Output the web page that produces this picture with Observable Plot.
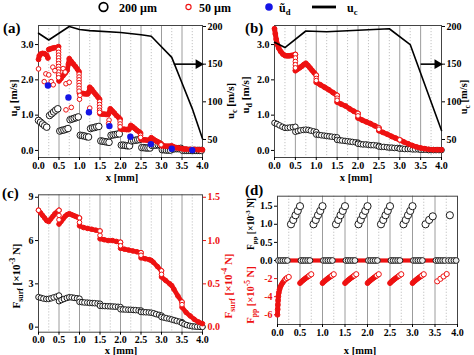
<!DOCTYPE html>
<html><head><meta charset="utf-8">
<script src="https://cdn.jsdelivr.net/npm/d3@7"></script>
<script src="https://cdn.jsdelivr.net/npm/@observablehq/plot@0.6"></script>
<style>
html,body{margin:0;padding:0;background:#fff}
#wrap{position:relative;width:474px;height:355px;overflow:hidden;background:#fff}
#wrap svg{position:absolute}
</style></head>
<body><div id="wrap"></div>
<script>
// ---------- shared categories ----------
const xTicks = [0,0.5,1,1.5,2,2.5,3,3.5,4];
const gridMajor = [0.5,1,1.5,2,2.5,3,3.5];
const gridMinor = [0.25,0.75,1.25,1.75,2.25,2.75,3.25,3.75];
const udTicks = [0,1,2,3];
const ucTicks = [50,100,150,200];
const segStarts = [0,0.5,1,1.5,2,2.5,3,3.5];
const segOffsets = [0,0.06,0.12,0.19,0.25,0.31,0.37,0.44,0.5];

// ---------- (a) ----------
const aBig = [
 [0.0,0.85],[0.05,0.8],[0.1,0.75],[0.15,0.7],[0.2,0.66],
 [0.27,0.99],[0.32,1.04],[0.37,1.09],[0.42,1.14],[0.47,1.18],
 [0.52,0.55],[0.57,0.57],[0.62,0.58],[0.67,0.6],[0.72,0.62],
 [0.77,0.87],[0.82,0.89],[0.87,0.91],[0.92,0.93],[0.97,0.95],
 [1.02,0.43],[1.07,0.42],[1.12,0.41],[1.17,0.39],[1.22,0.38],
 [1.27,0.62],[1.32,0.64],[1.37,0.65],[1.42,0.67],[1.47,0.68],
 [1.52,0.27],[1.57,0.26],[1.62,0.25],[1.67,0.24],[1.72,0.23],
 [1.77,0.43],[1.82,0.44],[1.87,0.45],[1.92,0.46],[1.97,0.47],
 [2.02,0.15],[2.07,0.15],[2.12,0.14],[2.17,0.13],[2.22,0.13],
 [2.27,0.27],[2.32,0.28],[2.37,0.29],[2.42,0.3],[2.47,0.31],
 [2.52,0.08],[2.57,0.08],[2.62,0.07],[2.67,0.07],[2.72,0.07],
 [2.77,0.14],[2.82,0.15],[2.87,0.15],[2.92,0.16],[2.97,0.16],
 [3.02,0.02],[3.07,0.02],[3.12,0.01],[3.17,0.01],[3.22,0.01],
 [3.27,0.04],[3.32,0.05],[3.37,0.05],[3.42,0.05],[3.47,0.06],
 [3.52,0],[3.57,0],[3.62,0],[3.67,0],[3.72,0],
 [3.77,0],[3.82,0],[3.87,0],[3.92,0],[3.97,0]
];
const aRedBands = [
 [[0.0,2.58],[0.02,2.68],[0.05,2.73],[0.1,2.75],[0.15,2.74],[0.2,2.7],[0.23,2.62]],
 [[0.25,2.86],[0.3,2.88],[0.35,2.9],[0.4,2.91],[0.45,2.92],[0.49,2.94]],
 [[0.5,1.97],[0.55,2.04],[0.6,2.12],[0.65,2.19],[0.7,2.27],[0.73,2.45],[0.75,2.6],[0.8,2.52],[0.85,2.45],[0.9,2.38],[0.95,2.3],[0.99,2.23]],
 [[1.0,1.62],[1.05,1.62],[1.1,1.61],[1.15,1.6],[1.2,1.6],[1.23,1.66],[1.25,1.79],[1.3,1.73],[1.35,1.65],[1.4,1.58],[1.45,1.51],[1.49,1.45]],
 [[1.5,1.04],[1.55,1.03],[1.6,1.03],[1.65,1.02],[1.7,1.02],[1.73,1.08],[1.75,1.18],[1.8,1.12],[1.85,1.06],[1.9,0.99],[1.95,0.94],[1.99,0.89]],
 [[2.0,0.61],[2.05,0.6],[2.1,0.6],[2.15,0.59],[2.2,0.59],[2.23,0.64],[2.25,0.71],[2.3,0.67],[2.35,0.62],[2.4,0.57],[2.45,0.53],[2.49,0.49]],
 [[2.5,0.31],[2.55,0.3],[2.6,0.3],[2.65,0.29],[2.7,0.29],[2.73,0.32],[2.75,0.36],[2.8,0.32],[2.85,0.28],[2.9,0.25],[2.95,0.22],[2.99,0.19]],
 [[3.0,0.13],[3.05,0.13],[3.1,0.12],[3.15,0.12],[3.2,0.12],[3.25,0.13],[3.3,0.1],[3.35,0.08],[3.4,0.07],[3.45,0.06],[3.5,0.05],[3.55,0.04],[3.6,0.04],[3.7,0.03],[3.8,0.03],[3.9,0.02],[4.0,0.02]]
];
const aRedCols = [
 [0.49,2.86],[0.49,2.78],[0.49,2.7],[0.49,2.62],[0.49,2.54],[0.49,2.46],[0.49,2.38],[0.49,2.3],[0.49,2.22],[0.49,2.14],[0.49,2.06],
 [0.99,2.16],[0.99,2.08],[0.99,2.0],[0.99,1.92],[0.99,1.84],[0.99,1.76],[0.99,1.68],
 [1.49,1.38],[1.49,1.3],[1.49,1.22],[1.49,1.14],[1.49,1.08],
 [1.99,0.83],[1.99,0.75],[1.99,0.67],
 [2.49,0.43],[2.49,0.37],[2.99,0.16]
];
const aRedLoose = [
 [0.0,2.31],[0.18,2.17],[0.25,2.14],[0.14,1.95],[0.31,1.95],[0.36,1.86],
 [0.35,2.36],[0.4,2.26],[0.6,2.32],[0.65,2.22],[0.67,1.89],[0.75,1.93],
 [0.67,1.15],[0.8,1.22],[1.0,1.45],[1.01,1.56],[1.25,1.2],[1.72,0.86],[1.71,0.76]
];
const aBlue = [[0.23,1.84],[0.73,1.5],[1.23,1.08],[1.73,0.69],[2.24,0.39],[2.74,0.18],[3.25,0.05],[3.75,0.01]];
const aUc = [[0,191],[0.25,182],[0.75,200],[1.0,196],[1.25,194.5],[2.0,192],[2.5,189],[2.75,187],[3.25,159],[3.5,125],[3.75,91],[4.0,51]];
const aArrow = [{x1:3.3, x2:3.9, uc:150}];

// ---------- (b) ----------
const bBigSegs = [
 [0.78,0.75,0.71,0.67,0.64,0.64,0.65,0.66,0.67],
 [0.53,0.55,0.57,0.58,0.59,0.58,0.56,0.54,0.52],
 [0.45,0.44,0.43,0.42,0.41,0.40,0.39,0.38,0.37],
 [0.30,0.29,0.28,0.27,0.26,0.25,0.24,0.23,0.22],
 [0.19,0.18,0.17,0.17,0.16,0.15,0.15,0.14,0.13],
 [0.11,0.10,0.10,0.09,0.08,0.08,0.07,0.07,0.06],
 [0.05,0.05,0.04,0.04,0.04,0.03,0.03,0.03,0.03],
 [0.02,0.02,0.02,0.01,0.01,0.01,0.01,0.01,0.01]
];
const bRedBands = [
 [[0,3.45],[0.02,3.3],[0.04,3.15],[0.07,3.0],[0.1,2.9],[0.15,2.8],[0.2,2.73],[0.25,2.69],[0.3,2.68],[0.35,2.68],[0.4,2.69],[0.45,2.7],[0.5,2.72]],
 [[0.5,2.26],[0.55,2.3],[0.6,2.34],[0.65,2.38],[0.7,2.43],[0.75,2.47],[0.8,2.41],[0.85,2.34],[0.9,2.27],[0.95,2.2],[1.0,2.13]],
 [[1.0,1.93],[1.1,1.86],[1.2,1.79],[1.3,1.72],[1.4,1.64],[1.5,1.56]],
 [[1.5,1.37],[1.6,1.31],[1.7,1.26],[1.8,1.18],[1.9,1.11],[2.0,1.05]],
 [[2.0,0.92],[2.1,0.86],[2.2,0.81],[2.3,0.76],[2.4,0.7],[2.5,0.64]],
 [[2.5,0.56],[2.6,0.51],[2.7,0.46],[2.8,0.4],[2.9,0.35],[3.0,0.3],[3.1,0.24],[3.2,0.19],[3.3,0.14],[3.4,0.1],[3.5,0.07],[3.6,0.05],[3.7,0.03],[3.8,0.02],[3.9,0.02],[4.0,0.02]]
];
const bRedCols = [[0.5,2.72],[0.5,2.62],[0.5,2.52],[0.5,2.43],[0.5,2.34],[1.0,2.13],[1.0,2.04],[1.0,1.98],[1.5,1.56],[1.5,1.48],[1.5,1.42],[2.0,1.05],[2.0,0.98],[2.5,0.64],[2.5,0.6],[3.0,0.3]];
const bUc = [[0,179],[0.25,172],[0.75,194],[1.25,193],[2.0,195],[2.75,197],[3.25,176],[4.0,62]];
const bArrow = [{x1:3.5, x2:3.9, uc:150}];

// ---------- (c) ----------
const cBigSegs = [
 [2.08,2.03,1.98,1.95,1.96,2.00,2.06,2.12,2.19],
 [1.80,1.88,1.95,2.02,2.07,2.06,2.03,2.00,1.97],
 [1.75,1.73,1.71,1.70,1.68,1.67,1.66,1.64,1.62],
 [1.48,1.47,1.46,1.45,1.44,1.43,1.42,1.41,1.39],
 [1.24,1.23,1.22,1.21,1.20,1.19,1.18,1.16,1.15],
 [1.05,1.04,1.03,1.02,1.00,0.96,0.90,0.85,0.80],
 [0.70,0.66,0.62,0.58,0.53,0.48,0.43,0.38,0.34],
 [0.28,0.20,0.14,0.09,0.06,0.04,0.03,0.02,0.02]
];
const cRedBands = [
 [[0,1.35],[0.05,1.32],[0.1,1.29],[0.15,1.26],[0.2,1.23],[0.25,1.22],[0.3,1.25],[0.35,1.28],[0.4,1.31],[0.45,1.33],[0.5,1.35]],
 [[0.5,1.19],[0.55,1.22],[0.6,1.25],[0.65,1.28],[0.7,1.3],[0.75,1.31],[0.8,1.3],[0.85,1.29],[0.9,1.28],[0.95,1.27],[1.0,1.26]],
 [[1.0,1.17],[1.1,1.15],[1.2,1.14],[1.3,1.13],[1.4,1.12],[1.5,1.11]],
 [[1.5,1.02],[1.6,1.01],[1.7,1.0],[1.8,1.0],[1.9,0.99],[2.0,0.98]],
 [[2.0,0.91],[2.1,0.9],[2.2,0.89],[2.3,0.88],[2.4,0.87],[2.5,0.86]],
 [[2.5,0.8],[2.6,0.79],[2.7,0.78],[2.75,0.77],[2.8,0.75],[2.9,0.7],[3.0,0.65]],
 [[3.0,0.58],[3.1,0.54],[3.2,0.5],[3.25,0.48],[3.3,0.44],[3.4,0.36],[3.5,0.29]],
 [[3.5,0.23],[3.6,0.17],[3.7,0.13],[3.8,0.09],[3.9,0.06],[4.0,0.04]]
];
const cRedCols = [[0,1.35],[0.5,1.35],[0.5,1.29],[0.5,1.24],[1.0,1.26],[1.0,1.21],[1.5,1.11],[1.5,1.06],[2.0,0.98],[2.0,0.94],[2.5,0.86],[2.5,0.83],[3.0,0.65],[3.0,0.61],[3.5,0.29],[3.5,0.26]];
const cLeftTicks = [0,3,6,9];
const cRightTicks = [0,0.5,1.0,1.5];

// ---------- (d) ----------
const dUpStarts = [0.25,0.75,1.25,1.75,2.25,2.75];
const dUpOffsets = [0.05,0.1,0.15,0.2,0.25];
const dUpVals = [
 [1.0,1.12,1.25,1.37,1.5],[1.0,1.12,1.25,1.37,1.5],[1.0,1.12,1.25,1.37,1.5],
 [1.0,1.12,1.25,1.37,1.5],[1.0,1.12,1.25,1.37,1.5],[1.0,1.12,1.25,1.37,1.5]
];
const dUpExtra = [[3.29,1.0],[3.37,1.12],[3.45,1.22],[3.83,1.25]];
const dZeroBlackX = [
 0.02,0.07,0.12,0.17,0.22, 0.52,0.57,0.62,0.67,0.72, 1.02,1.07,1.12,1.17,1.22,
 1.52,1.57,1.62,1.67,1.72, 2.02,2.07,2.12,2.17,2.22, 2.52,2.57,2.62,2.67,2.72,
 3.02,3.07,3.12,3.17,3.22, 3.52,3.57,3.62,3.67,3.72,3.8,3.86,3.92,3.97
];
const dRedZero = [[0.25,0.5],[0.75,1.0],[1.25,1.5],[1.75,2.0],[2.25,2.5],[2.75,3.0],[3.25,3.5]];
const dRedLowFirstBand = [[0,-6.0],[0.004,-5.4],[0.008,-4.9],[0.013,-4.4],[0.02,-3.95],[0.03,-3.55],[0.045,-3.2],[0.065,-2.9],[0.09,-2.65],[0.12,-2.42],[0.15,-2.22]];
const dRedLowFirstTail = [[0.18,-2.06],[0.21,-1.94],[0.25,-1.82]];
const dRedLowStarts = [0.5,1.0,1.5,2.0,2.5,3.0];
const dRedLowBandProfile = [[0,-2.5],[0.03,-2.35],[0.06,-2.22],[0.09,-2.1],[0.12,-1.98],[0.15,-1.87],[0.18,-1.77]];
const dRedLowTailProfile = [[0.21,-1.66],[0.25,-1.52]];
const dRedLowLast = [[3.55,-2.3],[3.62,-2.02],[3.69,-1.76],[3.76,-1.5]];
const dUpTicks = [0,0.5,1.0,1.5];
const dLowTicks = [-2,-4,-6];

// ---------- helpers ----------
const FONT = '"Liberation Serif","Times New Roman",serif';
const RED = "#ee1111", BLUE = "#1515e6", BLK = "#1a1a1a";
const wrap = document.getElementById("wrap");

// (a)/(b) dual axis mapping: left u_d domain [-0.2,3.54] <-> right u_c [26.1,201.3]
const toAB = uc => -0.2 + (uc - 26.1) * (3.74 / 175.2);
const fromAB = p => 26.1 + (p + 0.2) * (175.2 / 3.74);

function frameMarks() {
  return [
    Plot.ruleX(gridMinor, {stroke: "#c2c2c2", strokeDasharray: "1.2,1.8"}),
    Plot.ruleX(gridMajor, {stroke: "#9c9c9c", strokeWidth: 1}),
    Plot.frame({stroke: "#444"}),
    Plot.axisX({ticks: xTicks, tickFormat: d3.format(".1f"), tickSize: 3, tickPadding: 1, label: null})
  ];
}
function bandMarks(groups, yf, sw = 4.6, r = 2.3) {
  const rows = groups.flatMap((g, i) => g.map(p => ({x: p[0], y: yf(p[1]), g: i})));
  return [
    Plot.line(rows, {x: "x", y: "y", z: "g", stroke: RED, strokeWidth: sw, strokeLinejoin: "round", strokeLinecap: "round"}),
    Plot.dot(rows, {x: "x", y: "y", r, stroke: RED, strokeWidth: 1})
  ];
}
function openDots(pts, yf, color, r, fill = "#fff", sw = 1) {
  return Plot.dot(pts, {x: d => d[0], y: d => yf(d[1]), r, stroke: color, fill, strokeWidth: sw});
}
function segPairs(segs) {
  return segs.flatMap((vals, k) => vals.map((v, i) => [segStarts[k] + segOffsets[i], v]));
}
function place(cfg) {
  const svg = Plot.plot({
    width: cfg.width, height: cfg.height,
    marginTop: cfg.mt, marginBottom: cfg.mb, marginLeft: cfg.ml, marginRight: cfg.mr,
    x: {domain: [0, 4], axis: null},
    y: {domain: cfg.yDomain, axis: null},
    style: {fontFamily: FONT, fontWeight: "bold", fontSize: "10px", background: "transparent", overflow: "visible", color: "#000"},
    marks: cfg.marks
  });
  svg.style.left = cfg.left + "px";
  svg.style.top = cfg.top + "px";
  wrap.appendChild(svg);
}
const id = v => v;

// ---------- panel (a) ----------
place({
  left: 0, top: 0, width: 237, height: 185, mt: 25, mb: 28, ml: 38, mr: 35,
  yDomain: [-0.2, 3.54],
  marks: [
    ...frameMarks(),
    Plot.axisY({ticks: udTicks, tickSize: 3, tickPadding: 2, label: null}),
    Plot.axisY({anchor: "right", ticks: ucTicks.map(toAB), tickFormat: p => String(Math.round(fromAB(p))), tickSize: 3, tickPadding: 2, label: null}),
    openDots(aBig, id, BLK, 3.3),
    ...bandMarks(aRedBands, id, 4.8, 2.4),
    openDots(aRedCols, id, RED, 2.3),
    openDots(aRedLoose, id, RED, 2.3),
    Plot.dot(aBlue, {x: d => d[0], y: d => d[1], r: 3.2, fill: BLUE}),
    Plot.line(aUc, {x: d => d[0], y: d => toAB(d[1]), stroke: "#000", strokeWidth: 1.6}),
    Plot.link(aArrow, {x1: "x1", x2: "x2", y1: d => toAB(d.uc), y2: d => toAB(d.uc), stroke: "#000", strokeWidth: 1.6}),
    Plot.dot(aArrow, {x: "x2", y: d => toAB(d.uc), symbol: "triangle", rotate: 90, r: 3.6, fill: "#000"})
  ]
});

// ---------- panel (b) ----------
place({
  left: 237, top: 0, width: 237, height: 185, mt: 25, mb: 28, ml: 37, mr: 33,
  yDomain: [-0.2, 3.54],
  marks: [
    ...frameMarks(),
    Plot.axisY({ticks: udTicks, tickSize: 3, tickPadding: 2, label: null}),
    Plot.axisY({anchor: "right", ticks: ucTicks.map(toAB), tickFormat: p => String(Math.round(fromAB(p))), tickSize: 3, tickPadding: 2, label: null}),
    openDots(segPairs(bBigSegs), id, BLK, 2.8),
    ...bandMarks(bRedBands, id, 5, 2.4),
    openDots(bRedCols, id, RED, 2.3),
    Plot.line(bUc, {x: d => d[0], y: d => toAB(d[1]), stroke: "#000", strokeWidth: 1.6}),
    Plot.link(bArrow, {x1: "x1", x2: "x2", y1: d => toAB(d.uc), y2: d => toAB(d.uc), stroke: "#000", strokeWidth: 1.6}),
    Plot.dot(bArrow, {x: "x2", y: d => toAB(d.uc), symbol: "triangle", rotate: 90, r: 3.6, fill: "#000"})
  ]
});

// ---------- panel (c) ----------
const cR = v => v * 6;
place({
  left: 0, top: 185, width: 237, height: 170, mt: 9.3, mb: 23.3, ml: 38, mr: 35,
  yDomain: [-0.35, 9.17],
  marks: [
    ...frameMarks(),
    Plot.axisY({ticks: cLeftTicks, tickSize: 3, tickPadding: 2, label: null}),
    Plot.axisY({anchor: "right", ticks: cRightTicks.map(cR), tickFormat: p => (p / 6).toFixed(1), tickSize: 3, tickPadding: 2, label: null, color: RED}),
    openDots(segPairs(cBigSegs), id, BLK, 2.8),
    ...bandMarks(cRedBands, cR, 4.6, 2.3),
    openDots(cRedCols, cR, RED, 2.3)
  ]
});

// ---------- panel (d) ----------
const dL = v => v * 0.25;
const dUp = dUpStarts.flatMap((s, k) => dUpOffsets.map((o, i) => [s + o, dUpVals[k][i]])).concat(dUpExtra);
const dLowBands = [dRedLowFirstBand].concat(dRedLowStarts.map(s => dRedLowBandProfile.map(p => [s + p[0], p[1]])));
const dLowTails = dRedLowFirstTail.concat(dRedLowStarts.flatMap(s => dRedLowTailProfile.map(p => [s + p[0], p[1]])), dRedLowLast);
place({
  left: 237, top: 185, width: 237, height: 170, mt: 10.7, mb: 31, ml: 40, mr: 17,
  yDomain: [-1.768, 1.776],
  marks: [
    ...frameMarks(),
    Plot.axisY({ticks: dUpTicks, tickFormat: d3.format(".1f"), tickSize: 3, tickPadding: 2, label: null}),
    Plot.axisY({ticks: dLowTicks.map(dL), tickFormat: p => String(Math.round(p * 4)), tickSize: 3, tickPadding: 2, label: null, color: RED}),
    Plot.link(dRedZero, {x1: d => d[0], x2: d => d[1], y1: 0, y2: 0, stroke: RED, strokeWidth: 4.2}),
    Plot.dot(dZeroBlackX, {x: d => d, y: 0, r: 2.9, stroke: BLK, fill: "#eee", strokeWidth: 1}),
    openDots(dUp, id, BLK, 3.6),
    ...bandMarks(dLowBands, dL, 4.8, 2.4),
    openDots(dLowTails, dL, RED, 2.6)
  ]
});

// ---------- overlay texts (legend, titles) ----------
const ov = d3.create("svg").attr("width", 474).attr("height", 355)
  .style("left", "0px").style("top", "0px")
  .attr("font-family", FONT).attr("font-weight", "bold");
function rich(x, y, parts, {size = 11, fill = "#000", rotate = 0, anchor = "middle"} = {}) {
  const g = ov.append("g").attr("transform", `translate(${x},${y}) rotate(${rotate})`);
  const t = g.append("text").attr("text-anchor", anchor).attr("font-size", size).attr("fill", fill);
  let cur = 0;
  for (const [s, k] of parts) {
    const target = k === "sub" ? size * 0.3 : k === "sup" ? -size * 0.42 : 0;
    t.append("tspan").attr("dy", target - cur).attr("font-size", k ? size * 0.72 : size).text(s);
    cur = target;
  }
}
const ud = [["u"], ["d", "sub"], [" [m/s]"]];
const uc = [["u"], ["c", "sub"], [" [m/s]"]];
rich(17, 98, ud, {rotate: -90});
rich(234, 101, uc, {rotate: -90});
rich(249, 95, ud, {rotate: -90});
rich(467, 97, uc, {rotate: -90, size: 10.5});
rich(20, 276, [["F"], ["surf", "sub"], [" [×10"], ["-3", "sup"], [" N]"]], {rotate: -90});
rich(232, 286, [["F"], ["surf", "sub"], [" [×10"], ["-4", "sup"], [" N]"]], {rotate: -90, fill: RED});
rich(254, 224, [["F"], ["pp", "sub"], [" [×10"], ["-3", "sup"], [" N]"]], {rotate: -90, size: 9.5});
rich(254, 295, [["F"], ["pp", "sub"], [" [×10"], ["-5", "sup"], [" N]"]], {rotate: -90, fill: RED, size: 10.5});
rich(122, 181, [["x [mm]"]], {size: 10.5});
rich(356, 181, [["x [mm]"]], {size: 10.5});
rich(121, 353.5, [["x [mm]"]], {size: 10.5});
rich(360, 353.5, [["x [mm]"]], {size: 10.5});
rich(3, 33, [["(a)"]], {size: 15, anchor: "start"});
rich(245, 33, [["(b)"]], {size: 15, anchor: "start"});
rich(2, 198, [["(c)"]], {size: 15, anchor: "start"});
rich(245, 195, [["(d)"]], {size: 15, anchor: "start"});
// legend
ov.append("circle").attr("cx", 103.5).attr("cy", 7).attr("r", 4.3).attr("fill", "#fff").attr("stroke", "#000").attr("stroke-width", 1.7);
rich(119, 11.5, [["200 µm"]], {size: 12, anchor: "start"});
ov.append("circle").attr("cx", 188.5).attr("cy", 7).attr("r", 2.6).attr("fill", "#fff").attr("stroke", RED).attr("stroke-width", 1.1);
rich(199, 11.5, [["50 µm"]], {size: 12, anchor: "start"});
ov.append("circle").attr("cx", 269).attr("cy", 7).attr("r", 3.8).attr("fill", BLUE);
rich(279, 11.5, [["ũ"], ["d", "sub"]], {size: 12, anchor: "start"});
ov.append("line").attr("x1", 312).attr("x2", 336).attr("y1", 7).attr("y2", 7).attr("stroke", "#000").attr("stroke-width", 2.8);
rich(347, 11.5, [["u"], ["c", "sub"]], {size: 12, anchor: "start"});
wrap.appendChild(ov.node());
</script>
</body></html>
